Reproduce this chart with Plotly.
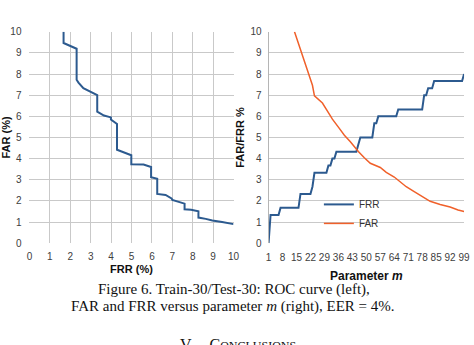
import plotly.graph_objects as go

# ---- Left: ROC curve (FRR % vs FAR %) ----
roc_frr = [1.67, 1.67, 2.31, 2.31, 2.4, 2.64, 3.32, 3.32, 3.65, 3.99, 3.99, 4.29, 4.29, 4.99, 4.99,
           5.59, 5.96, 5.96, 6.26, 6.26, 6.67, 6.96, 7.0, 7.36, 7.6, 7.6, 7.92, 8.28, 8.28, 8.64,
           8.96, 9.44, 10.0]
roc_far = [10.0, 9.47, 9.2, 7.73, 7.6, 7.33, 7.0, 6.22, 6.04, 5.95, 5.85, 5.64, 4.42, 4.16, 3.73,
           3.72, 3.6, 3.12, 3.05, 2.33, 2.28, 2.12, 2.05, 1.94, 1.87, 1.6, 1.58, 1.51, 1.21, 1.15,
           1.07, 1.0, 0.9]

# ---- Right: FAR and FRR versus parameter m ----
m_frr = [1, 2, 6, 7, 16, 17, 22, 23, 24, 30, 31, 32, 33, 34, 35, 45, 46, 47, 53, 54, 55, 56,
         65, 66, 78, 79, 80, 81, 83, 84, 98, 99]
frr = [0, 1.33, 1.33, 1.67, 1.67, 2.33, 2.33, 2.67, 3.33, 3.33, 3.67, 3.67, 4.0, 4.0, 4.33, 4.33,
       4.67, 5.0, 5.0, 5.67, 5.67, 6.0, 6.0, 6.33, 6.33, 7.0, 7.0, 7.33, 7.33, 7.67, 7.67, 8.0]

m_far = [14, 17, 20, 23, 24, 26, 28, 32, 33, 36, 39, 42, 45, 46, 49, 52, 57, 60, 64, 67, 70,
         74, 78, 82, 87, 92, 96, 99]
far = [10.0, 9.14, 8.23, 7.47, 6.97, 6.78, 6.63, 6.02, 5.87, 5.49, 5.11, 4.8, 4.42, 4.34, 4.04,
       3.78, 3.58, 3.35, 3.13, 2.9, 2.67, 2.44, 2.21, 1.98, 1.83, 1.71, 1.57, 1.5]

m_ticks = [1, 8, 15, 22, 29, 36, 43, 50, 57, 64, 71, 78, 85, 92, 99]
unit_ticks = list(range(0, 11))

BLUE = "#2c5a8f"
ORANGE = "#f0602a"
GRID = "#c9c9c9"
TICKC = "#404040"
CLEAR = "rgba(0,0,0,0)"
W, H = 474, 345

fig = go.Figure()
fig.add_trace(go.Scatter(x=roc_frr, y=roc_far, mode="lines", line=dict(color=BLUE, width=2),
                         showlegend=False, xaxis="x", yaxis="y"))
fig.add_trace(go.Scatter(x=m_frr, y=frr, mode="lines", name="FRR", line=dict(color=BLUE, width=2),
                         xaxis="x2", yaxis="y2"))
fig.add_trace(go.Scatter(x=m_far, y=far, mode="lines", name="FAR", line=dict(color=ORANGE, width=1.5),
                         xaxis="x2", yaxis="y2"))

ydom = [(H - 246) / H, (H - 27.7) / H]
tickfont = dict(family="Liberation Sans, Arial", size=10, color=TICKC)
titlefont = dict(family="Liberation Sans, Arial", size=11, color="#111")

fig.update_layout(
    width=W, height=H,
    margin=dict(l=0, r=0, t=0, b=0),
    paper_bgcolor="white", plot_bgcolor="white",
    xaxis=dict(domain=[27 / W, 235 / W], range=[0, 10], tickvals=unit_ticks, showgrid=True,
               gridcolor=GRID, zeroline=False, showline=False, ticks="outside", ticklen=4,
               tickcolor=CLEAR, tickfont=tickfont,
               title=dict(text="<b>FRR (%)</b>", font=titlefont, standoff=4), anchor="y"),
    yaxis=dict(domain=ydom, range=[0, 10], tickvals=unit_ticks, showgrid=True, gridcolor=GRID,
               zeroline=False, showline=False, ticks="outside", ticklen=5, tickcolor=CLEAR,
               tickfont=tickfont,
               title=dict(text="<b>FAR (%)</b>", font=titlefont, standoff=1), anchor="x"),
    xaxis2=dict(domain=[270.7 / W, 470 / W], range=[1, 99], tickvals=m_ticks, showgrid=False,
                zeroline=False, showline=False, ticks="outside", ticklen=5, tickcolor=CLEAR,
                tickfont=tickfont,
                title=dict(text="<b>Parameter <i>m</i></b>", font=dict(family="Liberation Sans, Arial", size=12, color="#111"), standoff=9),
                anchor="y2"),
    yaxis2=dict(domain=ydom, range=[0, 10], tickvals=unit_ticks, showgrid=True, gridcolor=GRID,
                zeroline=False, showline=True, linecolor="#b5b5b5", linewidth=1,
                ticks="outside", ticklen=4, tickcolor=CLEAR, tickfont=tickfont,
                title=dict(text="<b>FAR/FRR %</b>", font=titlefont, standoff=3), anchor="x2"),
    legend=dict(x=322 / W, y=(H - 191) / H, xanchor="left", yanchor="top",
                bgcolor="rgba(0,0,0,0)", font=dict(family="Liberation Sans, Arial", size=10, color="#333"),
                itemwidth=30),
    annotations=[
        dict(text="Figure 6. Train-30/Test-30: ROC curve (left),", x=235 / W, y=(H - 294) / H,
             xref="paper", yref="paper", showarrow=False, xanchor="center", yanchor="middle",
             font=dict(family="Liberation Serif, Times New Roman", size=15, color="#111")),
        dict(text="FAR and FRR versus parameter <i>m</i> (right), EER = 4%.", x=234 / W, y=(H - 311) / H,
             xref="paper", yref="paper", showarrow=False, xanchor="center", yanchor="middle",
             font=dict(family="Liberation Serif, Times New Roman", size=15, color="#111")),
        dict(text="V.    C<span style='font-size:12px'>ONCLUSIONS</span>", x=240 / W, y=(H - 340) / H,
             xref="paper", yref="paper", showarrow=False, xanchor="center", yanchor="top",
             font=dict(family="Liberation Serif, Times New Roman", size=16, color="#111")),
    ],
)

fig.write_html("out.html")
